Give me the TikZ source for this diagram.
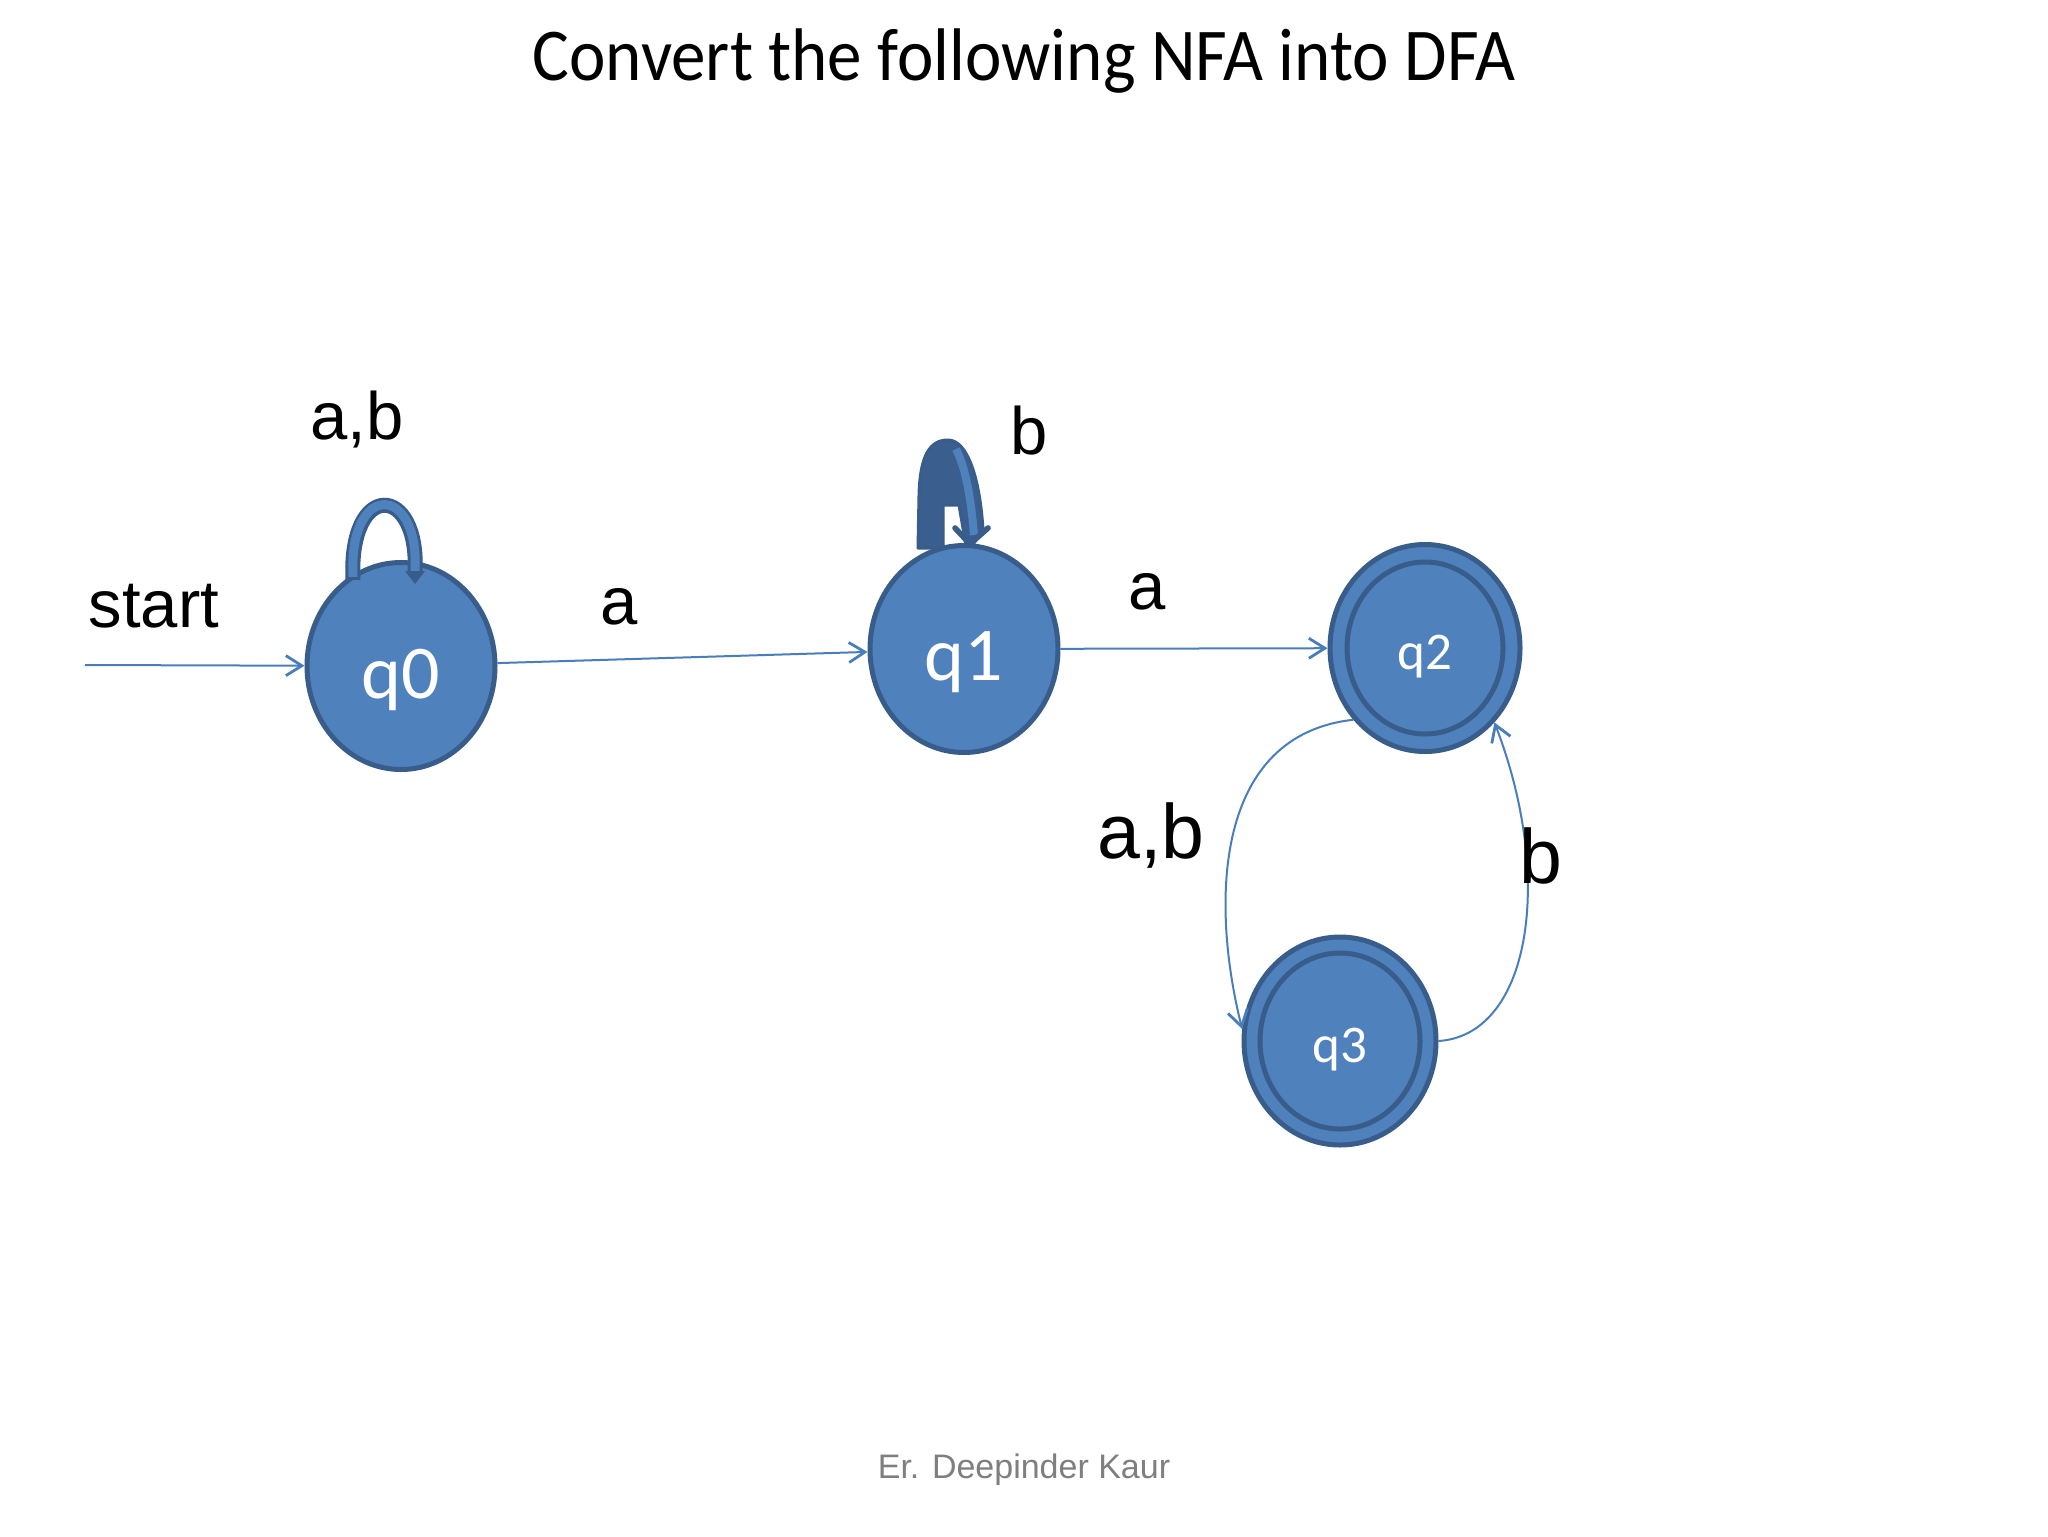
\documentclass[tikz,border=0pt]{standalone}
\usepackage{fontspec}
\usepackage{graphicx}
\usetikzlibrary{shapes.geometric,arrows.meta}
\newfontfamily\calib{Carlito}
\newfontfamily\arialf{Liberation Sans}
\definecolor{nfill}{HTML}{4F81BD}
\definecolor{nline}{HTML}{385D8A}
\definecolor{eline}{HTML}{4A7EBB}
\definecolor{loopdark}{HTML}{3A5F8F}
\definecolor{footgray}{HTML}{7F7F7F}
\begin{document}
\begin{tikzpicture}[x=0.5pt,y=-0.5pt,
  state/.style={ellipse, draw=nline, fill=nfill, line width=2.5pt, minimum width=94pt, minimum height=103.5pt, inner sep=0pt, text=white},
  bigq/.style={font=\calib\fontsize{38}{40}\selectfont, text height=31pt, text depth=0pt},
  smallq/.style={font=\calib\fontsize{26.5}{28}\selectfont, text height=21pt, text depth=0pt},
  edge/.style={draw=eline, line width=1pt, -{Straight Barb[length=8pt,width=10pt,line width=1.4pt]}},
  lbl/.style={font=\arialf\fontsize{33.5}{36}\selectfont, anchor=base, inner sep=0pt},
  biglbl/.style={font=\arialf\fontsize{38.5}{40}\selectfont, anchor=base, inner sep=0pt},
  loopout/.style={draw=nline, line width=7.5pt},
  loopin/.style={draw=nfill, line width=4.5pt},
  accring/.style={draw=nline, line width=2.5pt}
]
\fill[white] (0,0) rectangle (2048,1536);
\useasboundingbox (0,0) rectangle (2048,1536);

% title and footer
\node[font=\calib\fontsize{34.5}{36}\selectfont, anchor=base, inner sep=0pt] (title) at (1024,81) {\scalebox{1}[1.08]{Convert the following NFA into DFA}};
\node[font=\arialf\fontsize{17}{19}\selectfont, text=footgray, anchor=base, inner sep=0pt] (footer) at (1024,1478) {Er. Deepinder Kaur};

% states
\node[state, bigq, text height=32pt] (q0) at (401,666) {q0};
\node[state, bigq] (q1) at (964,649) {q1};
\node[state, smallq, minimum width=95pt] (q2) at (1425,648) {q2};
\node[state, smallq, minimum width=96pt, minimum height=104pt] (q3) at (1340,1041) {q3};
\draw[accring] (q2.center) ellipse [x radius=39pt, y radius=43pt];
\draw[accring] (q3.center) ellipse [x radius=40pt, y radius=44pt];

% start arrow
\coordinate (s) at (85,665);
\draw[edge] (s) -- (q0);
\node[lbl] (lstart) at (154,627) {start};

% transitions
\draw[edge] (q0) -- (q1);
\node[lbl] (la1) at (619,624) {a};
\draw[edge] (q1) -- (q2);
\node[lbl] (la2) at (1147,609) {a};
\draw[edge] (q2.225) .. controls (1215,735) and (1210,900) .. (q3.173);
\node[biglbl] (lab2) at (1151,858) {a,b};
\draw[edge] (q3.east) .. controls (1530,1035) and (1555,880) .. (q2.-47);
\node[biglbl] (lb2) at (1541,883) {b};

% self loop on q0
\begin{scope}[shift={(q0.center)}]
  \draw[loopout] (-48,-86) .. controls (-53,-186) and (19,-183) .. (14,-93);
  \draw[loopin] (-48,-89) .. controls (-53,-186) and (19,-183) .. (14,-95);
  \fill[nline] (4,-95) -- (24,-95) -- (14,-82) -- cycle;
\end{scope}
\node[lbl] (lab1) at (357,439) {a,b};

% self loop on q1
\begin{scope}[shift={(q1.center)}]
  \filldraw[fill=loopdark, draw=nline, line width=1.5pt, line join=round]
    (-46,-101) -- (-45,-154) .. controls (-44,-194) and (-34,-209) .. (-16,-209)
    .. controls (4,-209) and (16,-169) .. (19,-119) -- (8,-103) -- (2,-103)
    -- (-5,-144) -- (-21,-144) -- (-21,-101) -- cycle;
  \draw[draw=nfill, line width=4pt] (-8,-200) .. controls (2,-180) and (7,-150) .. (10,-114);
  \draw[draw=nline, line width=2.8pt, line cap=round, line join=round] (-9,-121) -- (6,-105) -- (24,-121);
\end{scope}
\node[lbl] (lb1) at (1029,454) {b};
\end{tikzpicture}
\end{document}
